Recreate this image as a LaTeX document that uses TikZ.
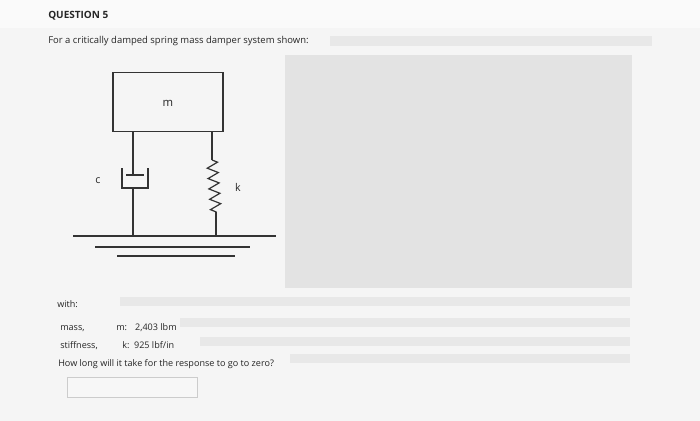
\documentclass[tikz,border=0pt]{standalone}
\usepackage{fontspec}
\setmainfont{Open Sans}
\usetikzlibrary{decorations.pathmorphing}
\begin{document}
\begin{tikzpicture}[x=0.75pt,y=-0.75pt,
  txt/.style={anchor=base west,inner sep=0pt,text=black!85,font=\fontsize{6.8}{8}\selectfont},
  band/.style={fill=black!9,draw=none},
  ln/.style={draw=black!80,line width=0.9pt}]
\useasboundingbox (0,0) rectangle (700,421);
\fill[black!4] (0,0) rectangle (700,421);
\fill[black!2] (0,0) rectangle (700,28);
\node[txt,font=\bfseries\fontsize{7.5}{9}\selectfont] (q) at (48,18) {QUESTION 5};
\fill[band] (330,36) rectangle (652,46);
\node[txt,font=\fontsize{7.1}{8}\selectfont] (intro) at (48,43) {For a critically damped spring mass damper system shown:};
\fill[black!11] (285,55) rectangle (632,288);
% mass
\node[ln,draw,minimum width=82.5pt,minimum height=44pt,inner sep=0pt] (mass) at (168,102) {};
\node[txt,font=\fontsize{8.5}{10}\selectfont,anchor=center] (mlab) at (168,103) {m};
% damper
\coordinate (dt) at (133,132);
\coordinate (db) at (133,236);
\draw[ln] (dt) -- (133,175) (126,175) -- (144,175);
\draw[ln] (122,168) -- (122,188) -- (148,188) -- (148,168);
\draw[ln] (133,188) -- (db);
\node[txt,font=\fontsize{8}{10}\selectfont,anchor=center] (clab) at (98,181) {c};
% spring
\coordinate (st) at (212,132);
\coordinate (sb) at (216,236);
\draw[ln] (st) -- (212,160);
\draw[ln,decorate,decoration={zigzag,segment length=7.8pt,amplitude=4pt}] (212,160) -- (216,212);
\draw[ln] (216,212) -- (sb);
\node[txt,font=\fontsize{8}{10}\selectfont,anchor=center] (klab) at (238,187) {k};
% ground
\draw[ln] (73,236) -- (276,236);
\draw[ln] (95,247) -- (250,247);
\draw[ln] (117,256) -- (235,256);
% text bands
\fill[band] (120,297) rectangle (630,306);
\fill[band] (180,318) rectangle (630,327);
\fill[band] (200,337) rectangle (630,346);
\fill[band] (290,354) rectangle (630,363);
\node[txt] (with) at (57,307) {with:};
\node[txt] (mass1) at (60,330) {mass,};
\node[txt] (mass2) at (116,330) {m:\hspace{6pt}2,403 lbm};
\node[txt] (st1) at (60,348) {stiffness,};
\node[txt] (st2) at (122,348) {k:\, 925 lbf/in};
\node[txt] (ques) at (58,366) {How long will it take for the response to go to zero?};
\node[draw=black!20,fill=black!3,minimum width=97.5pt,minimum height=15pt,inner sep=0pt] (ans) at (132,387) {};
\end{tikzpicture}
\end{document}
